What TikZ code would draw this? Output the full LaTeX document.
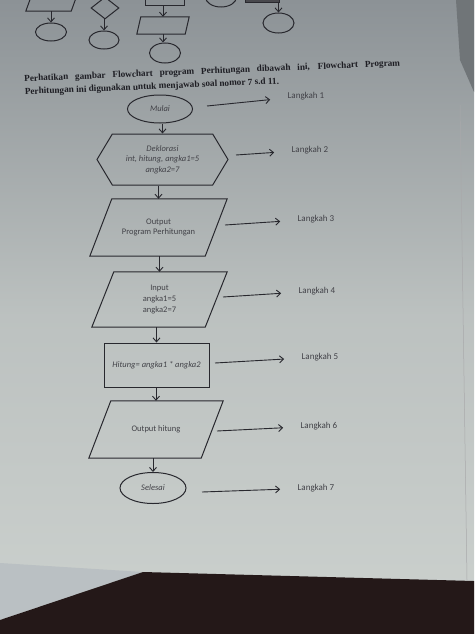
\documentclass[tikz,border=0pt]{standalone}
\usepackage{fontspec}
\usetikzlibrary{arrows.meta,shapes.geometric,shapes.symbols}
\newfontfamily\flowfont{Carlito}
\newfontfamily\titlefont{Liberation Serif}
\definecolor{paperdark}{RGB}{140,146,150}
\definecolor{paperlight}{RGB}{204,209,206}
\definecolor{sheet}{RGB}{186,192,195}
\definecolor{tabletop}{RGB}{36,24,24}
\definecolor{ink}{RGB}{40,40,46}
\definecolor{inkgray}{RGB}{66,66,72}
\definecolor{titleink}{RGB}{30,30,36}

\tikzset{
    box/.style={draw=ink, line width=1pt, inner sep=0pt},
    terminal/.style={box, ellipse},
    io/.style={rectangle, inner sep=0pt, append after command={\pgfextra{
        \draw[box] ([xshift=#1]\tikzlastnode.north west) -- (\tikzlastnode.north east)
            -- ([xshift=-#1]\tikzlastnode.south east) -- (\tikzlastnode.south west) -- cycle;}}},
    io/.default=22pt,
    prep/.style={box, signal, signal to=west and east, signal pointer angle=118},
    proc/.style={box, rectangle},
    flow/.style={->, ink, line width=0.9pt},
    langkaharrow/.style={->, ink, line width=0.9pt, shorten >=14pt},
    txt/.style={text=inkgray, font=\flowfont\fontsize{8.5}{10.5}\selectfont, align=center},
    langkah/.style={text=inkgray, font=\flowfont\fontsize{9}{11}\selectfont},
    judul/.style={anchor=north west, rotate=2.4, inner sep=0pt, text width=376pt, align=justify, text=titleink, font=\titlefont\bfseries\fontsize{9.2}{13}\selectfont}
}

\begin{document}
\begin{tikzpicture}[x=1pt, y=-1pt, >={Straight Barb[length=4pt,width=7pt]}]
    \useasboundingbox (0,0) rectangle (474,634);
    \clip (0,0) rectangle (474,634);

    % paper, darker at the top
    \shade[top color=paperdark, bottom color=paperlight, middle color=paperlight!75!paperdark] (0,0) rectangle (474,634);
    % next sheet and table
    \fill[paperdark!80!black] (456,0) -- (474,0) -- (474,92) -- (460,60) -- cycle;
    \draw[ink!40, line width=0.5pt] (460,105) -- (467,580);
    \fill[sheet] (0,563) -- (143,572) -- (0,620) -- cycle;
    \fill[tabletop] (143,572) -- (474,581) -- (474,634) -- (0,634) -- (0,620) -- cycle;

    % previous question, cut off at the top
    \node[io=11pt, minimum width=56pt, minimum height=30pt] (atasio) at (54,-4) {};
    \node[terminal, minimum width=31pt, minimum height=18pt] (atasa) at (51,32) {};
    \draw[flow] (atasa.north |- atasio.south) -- (atasa.north);

    \node[box, diamond, minimum width=28pt, minimum height=22pt] (atasd) at (105,8) {};
    \node[terminal, minimum width=30pt, minimum height=18pt] (atasb) at (104,40) {};
    \draw[flow] (atasb.north |- atasd.south) -- (atasb.north);

    \node[proc, minimum width=39pt, minimum height=22pt] (atasr) at (164.5,-5) {};
    \node[io=4pt, minimum width=52pt, minimum height=17pt] (atasp) at (163,25.5) {};
    \node[terminal, minimum width=31pt, minimum height=20pt] (atasc) at (165,53) {};
    \draw[flow] (atasp.north |- atasr.south) -- (atasp.north);
    \draw[flow] (atasp.south) -- (atasp.south |- atasc.north);

    \node[terminal, minimum width=31pt, minimum height=20pt] (atase) at (221,-3) {};

    \node[proc, fill=ink!85, minimum width=34pt, minimum height=22pt] (atass) at (262,-8) {};
    \node[terminal, minimum width=31pt, minimum height=20pt] (atasf) at (278.5,23) {};
    \draw[flow] (atasf.north |- atass.south) -- (atasf.north);

    % question text
    \node[judul] (judul) at (24,75) {Perhatikan gambar Flowchart program Perhitungan dibawah ini, Flowchart Program\linebreak Perhitungan ini digunakan untuk menjawab soal nomor 7 s.d 11.};

    % flowchart
    \node[terminal, txt, minimum width=65pt, minimum height=28pt] (mulai) at (160,109) {\itshape Mulai};
    \node[prep, txt, minimum width=131pt, minimum height=51pt] (deklarasi) at (162.5,159.5)
        {\itshape Deklorasi\\ \itshape int, hitung, angka1=5\\ \itshape angka2=7};
    \node[io, txt, minimum width=137pt, minimum height=57pt] (output1) at (158.5,227.5) {Output\\ Program Perhitungan};
    \node[io, txt, minimum width=135pt, minimum height=55pt] (input) at (159.5,299.5) {Input\\ angka1=5\\ angka2=7};
    \node[proc, txt, minimum width=105pt, minimum height=44pt] (hitung) at (156.5,365) {\itshape Hitung= angka1 * angka2};
    \node[io, txt, minimum width=134pt, minimum height=57pt] (output2) at (156,429.5) {Output hitung};
    \node[terminal, txt, minimum width=66pt, minimum height=31pt] (selesai) at (153,488) {\itshape Selesai};

    \draw[flow] (mulai.south -| deklarasi.north) -- (deklarasi.north);
    \draw[flow] (deklarasi.south -| output1.north) -- (output1.north);
    \draw[flow] (output1.south -| input.north) -- (input.north);
    \draw[flow] (input.south -| hitung.north) -- (hitung.north);
    \draw[flow] (hitung.south -| output2.north) -- (output2.north);
    \draw[flow] (output2.south -| selesai.north) -- (selesai.north);

    % steps
    \node[langkah] (l1) at (306,96) {Langkah 1};
    \node[langkah] (l2) at (310,150) {Langkah 2};
    \node[langkah] (l3) at (316,219) {Langkah 3};
    \node[langkah] (l4) at (317,291) {Langkah 4};
    \node[langkah] (l5) at (320,357) {Langkah 5};
    \node[langkah] (l6) at (319,426) {Langkah 6};
    \node[langkah] (l7) at (316,488) {Langkah 7};

    \coordinate (a1) at (207,106);
    \coordinate (a2) at (236,155);
    \coordinate (a3) at (225,225);
    \coordinate (a4) at (223,297);
    \coordinate (a5) at (215,363);
    \coordinate (a6) at (217,431);
    \coordinate (a7) at (202,492);

    \draw[langkaharrow] (a1) -- (l1);
    \draw[langkaharrow] (a2) -- (l2);
    \draw[langkaharrow] (a3) -- (l3);
    \draw[langkaharrow] (a4) -- (l4);
    \draw[langkaharrow] (a5) -- (l5);
    \draw[langkaharrow] (a6) -- (l6);
    \draw[langkaharrow] (a7) -- (l7);
\end{tikzpicture}
\end{document}
